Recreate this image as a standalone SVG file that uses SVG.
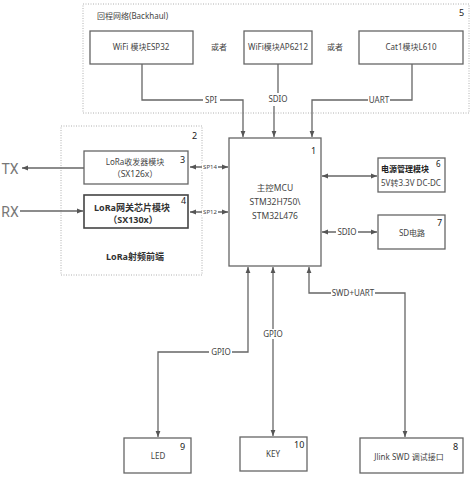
<svg xmlns="http://www.w3.org/2000/svg" width="474" height="477" viewBox="0 0 474 477">
<style>
text{font-family:"Noto Sans","Noto Sans CJK SC",sans-serif;fill:#444;font-size:8px}
.box{fill:#fff;stroke:#666;stroke-width:1.3}
.grp{fill:none;stroke:#b0b0b0;stroke-width:1;stroke-dasharray:1 1.5}
.ln{fill:none;stroke:#666;stroke-width:1.3}
.c{text-anchor:middle}
.num{font-size:9px;fill:#222}
.lbl{fill:#fff;stroke:none}
.b{font-weight:bold;fill:#333}
.s6{font-size:6px}
.s85{font-size:8.5px}
.s9{font-size:9px}
.big{font-family:"Roboto","DejaVu Sans Condensed",sans-serif;font-size:14px;fill:#777}
</style>
<defs>
<marker id="ah" viewBox="0 0 10 10" refX="10" refY="5" markerWidth="6" markerHeight="6" orient="auto-start-reverse" markerUnits="userSpaceOnUse">
<path d="M0,1 L10,5 L0,9 Z" fill="#555"/>
</marker>
</defs>
<rect width="474" height="477" fill="#fff"/>

<g id="group5">
<rect class="grp" x="83" y="4" width="386" height="109"/>
<text x="97" y="19">回程网络(Backhaul)</text>
<text class="num" x="459" y="16">5</text>
<text x="219" y="50" class="c">或者</text>
<text x="335" y="50" class="c">或者</text>
</g>
<g id="group2">
<rect class="grp" x="61" y="126" width="141" height="149"/>
<text class="num" x="192" y="139">2</text>
<text class="c b s9" x="135" y="260">LoRa射频前端</text>
</g>

<g id="connectors">
<path class="ln" d="M142,64 V100 H243 V137" marker-end="url(#ah)"/>
<path class="ln" d="M278,64 V93"/>
<path class="ln" d="M274,106 V137" marker-end="url(#ah)"/>
<path class="ln" d="M412,64 V100 H312 V137" marker-end="url(#ah)"/>
<rect class="lbl" x="203" y="95" width="17" height="10"/>
<text class="c" x="211" y="103">SPI</text>
<text class="c" x="278" y="102">SDIO</text>
<rect class="lbl" x="368" y="95" width="22" height="10"/>
<text class="c" x="379" y="103">UART</text>

<path class="ln" d="M84,168 H22" marker-end="url(#ah)"/>
<path class="ln" d="M20,211 H83" marker-end="url(#ah)"/>
<text class="big c" x="10" y="174">TX</text>
<text class="big c" x="10" y="217">RX</text>

<path class="ln" d="M190,167 H228" marker-start="url(#ah)" marker-end="url(#ah)"/>
<path class="ln" d="M190,212 H228" marker-start="url(#ah)" marker-end="url(#ah)"/>
<rect class="lbl" x="202" y="163" width="16" height="8"/>
<text class="c s6" x="210" y="169">SP14</text>
<rect class="lbl" x="202" y="208" width="16" height="8"/>
<text class="c s6" x="210" y="214">SP12</text>

<path class="ln" d="M322,176 H377" marker-start="url(#ah)" marker-end="url(#ah)"/>
<path class="ln" d="M322,232 H377" marker-start="url(#ah)" marker-end="url(#ah)"/>
<rect class="lbl" x="336" y="227" width="22" height="10"/>
<text class="c" x="347" y="235">SDIO</text>

<path class="ln" d="M248,267 V352 H158 V437" marker-start="url(#ah)" marker-end="url(#ah)"/>
<path class="ln" d="M273,267 V436" marker-start="url(#ah)" marker-end="url(#ah)"/>
<path class="ln" d="M309,267 V293 H405 V437" marker-start="url(#ah)" marker-end="url(#ah)"/>
<rect class="lbl" x="209" y="347" width="23" height="10"/>
<text class="c" x="221" y="355">GPIO</text>
<rect class="lbl" x="261" y="329" width="24" height="10"/>
<text class="c" x="273" y="337">GPIO</text>
<rect class="lbl" x="331" y="288" width="44" height="10"/>
<text class="c" x="353" y="296">SWD+UART</text>
</g>

<g id="n-esp32">
<rect class="box" x="90" y="31" width="103" height="33"/>
<text class="c" x="141" y="50">WiFi 模块ESP32</text>
</g>
<g id="n-ap6212">
<rect class="box" x="244" y="31" width="68" height="33"/>
<text class="c" x="278" y="50">WiFi模块AP6212</text>
</g>
<g id="n-cat1">
<rect class="box" x="359" y="31" width="104" height="33"/>
<text class="c" x="411" y="50">Cat1模块L610</text>
</g>

<g id="n1-mcu">
<rect class="box" x="229" y="138" width="92" height="128"/>
<text class="num" x="311" y="154">1</text>
<text class="c s85" x="275" y="191">主控MCU</text>
<text class="c s85" x="275" y="205">STM32H750\</text>
<text class="c s85" x="275" y="219">STM32L476</text>
</g>

<g id="n3-lora-trx">
<rect class="box" x="84" y="151" width="104" height="33"/>
<text class="num" x="180" y="163">3</text>
<text class="c" x="135" y="165">LoRa收发器模块</text>
<text class="c s85" x="135" y="177">（SX126x）</text>
</g>
<g id="n4-lora-gw">
<rect class="box" x="84" y="195" width="104" height="33" style="stroke:#444;stroke-width:1.6"/>
<text class="num" x="181" y="204">4</text>
<text class="c b s9" x="132" y="211">LoRa网关芯片模块</text>
<text class="c b s9" x="133" y="223">（SX130x）</text>
</g>

<g id="n6-power">
<rect class="box" x="378" y="158" width="67" height="34"/>
<text class="num" x="436" y="167" style="font-size:8px">6</text>
<text x="381" y="172" style="font-weight:bold;fill:#222">电源管理模块</text>
<text x="381" y="186">5V转3.3V DC-DC</text>
</g>
<g id="n7-sd">
<rect class="box" x="378" y="215" width="67" height="34"/>
<text class="num" x="437" y="226">7</text>
<text class="c" x="412" y="236">SD电路</text>
</g>

<g id="n9-led">
<rect class="box" x="124" y="438" width="67" height="35"/>
<text class="num" x="180" y="450">9</text>
<text class="c" x="158" y="459">LED</text>
</g>
<g id="n10-key">
<rect class="box" x="240" y="437" width="67" height="34"/>
<text class="num" x="294" y="448">10</text>
<text class="c" x="273" y="457">KEY</text>
</g>
<g id="n8-jlink">
<rect class="box" x="360" y="438" width="103" height="35"/>
<text class="num" x="453" y="450">8</text>
<text class="c" x="409" y="460">Jlink SWD 调试接口</text>
</g>
</svg>
